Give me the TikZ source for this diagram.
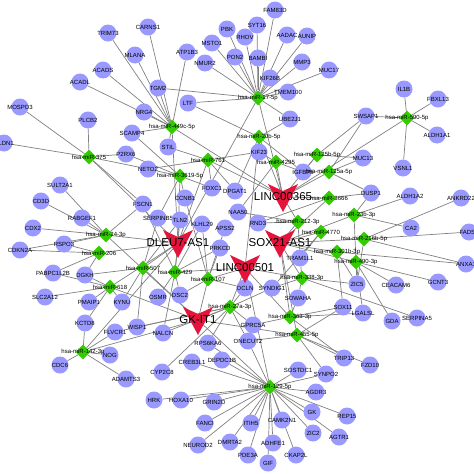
\documentclass[tikz,border=0pt]{standalone}
\usepackage{fontspec}
\setmainfont{Liberation Sans}
\usetikzlibrary{shapes.geometric,backgrounds}
\definecolor{genec}{RGB}{153,153,255}
\definecolor{mirc}{RGB}{51,204,0}
\definecolor{lncc}{RGB}{228,20,60}
\definecolor{edgec}{RGB}{128,128,128}

\begin{document}
\begin{tikzpicture}[x=1pt,y=-1pt,
   gene/.style={circle,fill=genec,minimum size=17pt,inner sep=0pt},
   mir/.style={diamond,fill=mirc,minimum size=15pt,inner sep=0pt},
   lnc/.style={inner sep=0pt,minimum size=0pt},
   link/.style={draw=edgec,line width=0.7pt},
   every label/.style={font=\fontsize{6}{6}\selectfont,inner sep=0pt}]
   \useasboundingbox (0,0) rectangle (474,474);

   % mRNAs
   \foreach \nm/\xy in {FAM83D/{275,10},TRIM73/{108,33},CARNS1/{148,27},SYT16/{257,25},
      PBK/{227,29},RHOV/{245,37},AADAC/{287,35},AUNIP/{307,36},MSTO1/{212,43},
      ATP1B3/{187,52},MLANA/{135,55},PON2/{235,57},BAMBI/{258,58},NMUR2/{205,63},
      MMP3/{302,62},ACADS/{103,70},MUC17/{329,70},ACADL/{80,82},KIF26B/{270,78},
      TGM2/{158,88},TMEM100/{288,92},LTF/{188,103},IL1B/{404,89},FBXL13/{438,99},
      MOSPD3/{20,107},NRG4/{144,112},UBE2J1/{290,119},PLCB2/{88,120},SWSAP1/{366,116},
      ALDH1A1/{437,135},SCAMP4/{132,133},CLDN1/{4,143},STIL/{168,147},KIF23/{259,152},
      P2RX6/{126,154},MUC13/{363,158},VSNL1/{403,168},NETO2/{148,169},IGFBP5/{303,172},
      SULT2A1/{60,185},FOXC1/{212,188},DPGAT1/{235,191},DUSP1/{371,193},ALDH1A2/{410,196},
      ANKRD22/{461,198},CCNB1/{185,198},CD3D/{41,201},FSCN1/{143,204},NAA50/{238,212},
      RABGEF1/{82,218},SERPINB5/{158,218},TLN2/{180,220},KLHL29/{202,224},APSS2/{225,228},
      RND3/{258,223},CDX2/{33,228},CA2/{411,228},FADS1/{469,232},CDKN2A/{20,250},
      RSPO3/{64,244},PRKCD/{220,248},TRAM1L1/{300,258},ANXA1/{466,264},PABPC1L2B/{53,273},
      DGKH/{85,275},GCNT3/{438,282},ZIC5/{357,284},CEACAM6/{396,285},OCLN/{245,288},
      SYNDIG1/{272,288},DSC2/{180,295},OSMR/{158,297},SOWAHA/{298,298},SLC2A12/{45,297},
      PMAIP1/{89,302},KYNU/{122,302},SOX11/{343,307},LGALSL/{363,313},GDA/{392,321},
      SERPINA5/{417,318},KCTD8/{85,323},WISP1/{137,327},GPRC5A/{253,325},FLVCR1/{115,332},
      NALCN/{163,333},ONECUT2/{248,341},RPS6KA6/{208,343},NOG/{110,355},TRIP13/{344,358},
      CREB3L1/{192,362},DEPDC1B/{222,360},CDC6/{60,365},FZD10/{370,365},SOSTDC1/{298,370},
      CYP2C8/{162,372},SYNPO2/{326,374},ADAMTS3/{126,379},AGDR3/{316,392},HRK/{154,400},
      HOXA10/{181,400},GRIN2D/{214,402},GK/{312,412},REP15/{347,416},CAMK2N1/{282,420},
      FANCI/{205,423},ITIH5/{251,423},ZIC2/{313,433},AGTR1/{339,437},DMRTA2/{230,442},
      ADHFE1/{273,443},NEUROD2/{198,445},PDE3A/{248,455},CKAP2L/{296,455},GIF/{268,463}}
      \node[gene,label=center:\nm] (\nm) at (\xy) {};

   % miRNAs
   \foreach \nm/\xy/\lab in {miR17/{258,98}/17-5p,miR590/{407,118}/590-5p,miR449/{172,127}/449c-5p,
      miR20b/{259,137}/20b-5p,miR125b/{317,155}/125b-5p,miR375/{89,157}/375,miR761/{208,160}/761,
      miR4295/{276,162}/4295,miR125a/{329,172}/125a-5p,miR3619/{180,176}/3619-5p,
      miR3666/{329,198}/3666,miR23b/{354,215}/23b-3p,miR212/{298,222}/212-3p,miR4770/{321,232}/4770,
      miR24/{106,235}/24-3p,miR216b/{364,239}/216b-5p,miR301b/{337,252}/301b-3p,miR206/{99,253}/206,
      miR490/{356,262}/490-3p,miR507/{143,268}/507,miR429/{175,272}/429,miR338/{302,278}/338-3p,
      miR107/{208,279}/107,miR618/{110,287}/618,miR27a/{230,307}/27a-3p,miR363/{290,317}/363-3p,
      miR455/{297,335}/455-5p,miR142/{83,352}/142-3p,miR129/{270,387}/129-5p}
      \node[mir,label=center:hsa-miR-\lab] (\nm) at (\xy) {};

   % lncRNAs
   \foreach \nm/\xy/\lab in {dleu/{178,243}/DLEU7-AS1,linc365/{283,197}/LINC00365,
      sox21/{280,243}/SOX21-AS1,linc501/{245,268}/LINC00501,gkit1/{198,320}/GK-IT1}{
      \fill[lncc,shift={(\xy)}] (-15,-13) -- (0,-6) -- (15,-13) -- (0,15) -- cycle;
      \node[lnc,label={[font=\fontsize{11.5}{12}\selectfont]center:\lab}] (\nm) at (\xy) {};
   }

   \begin{scope}[on background layer]
   % lncRNA - miRNA
   \foreach \m in {miR375,miR24,miR206,miR507,miR618,miR142,miR429,miR3619,miR449,miR761,miR17}
      \draw[link] (dleu) -- (\m);
   \foreach \m in {miR17,miR20b,miR4295,miR590,miR125b,miR125a,miR3666,miR212,miR761,miR449}
      \draw[link] (linc365) -- (\m);
   \foreach \m in {miR23b,miR216b,miR301b,miR490,miR338,miR363,miR455,miR4770,miR212,miR3666}
      \draw[link] (sox21) -- (\m);
   \foreach \m in {miR107,miR27a,miR129,miR338,miR363,miR429,miR20b}
      \draw[link] (linc501) -- (\m);
   \foreach \m in {miR27a,miR142,miR618,miR507,miR129,miR107,miR455,miR24}
      \draw[link] (gkit1) -- (\m);

   % miRNA - mRNA
   \foreach \g in {FAM83D,PBK,SYT16,RHOV,AADAC,AUNIP,MSTO1,PON2,BAMBI,NMUR2,MMP3,KIF26B,
      TMEM100,TGM2,UBE2J1,MUC17,LTF}
      \draw[link] (miR17) -- (\g);
   \foreach \g in {TRIM73,MLANA,CARNS1,ATP1B3,ACADS,ACADL,NRG4,SCAMP4,STIL,TGM2}
      \draw[link] (miR449) -- (\g);
   \foreach \g in {CLDN1,MOSPD3,PLCB2,P2RX6,NETO2,FSCN1}
      \draw[link] (miR375) -- (\g);
   \foreach \g in {NETO2,STIL,FOXC1,DPGAT1,KIF23}
      \draw[link] (miR761) -- (\g);
   \foreach \g in {CCNB1,FOXC1,NETO2,SCAMP4,P2RX6,SERPINB5}
      \draw[link] (miR3619) -- (\g);
   \foreach \g in {KIF23,UBE2J1,IGFBP5,DPGAT1,LTF}
      \draw[link] (miR20b) -- (\g);
   \foreach \g in {IGFBP5,KIF23,NAA50}
      \draw[link] (miR4295) -- (\g);
   \foreach \g in {IL1B,FBXL13,ALDH1A1,SWSAP1,VSNL1}
      \draw[link] (miR590) -- (\g);
   \foreach \g in {SWSAP1,MUC13,IGFBP5}
      \draw[link] (miR125b) -- (\g);
   \foreach \g in {SWSAP1,MUC13,DUSP1}
      \draw[link] (miR125a) -- (\g);
   \foreach \g in {DUSP1,RND3}
      \draw[link] (miR3666) -- (\g);
   \foreach \g in {DUSP1,ALDH1A2,CA2,ZIC5}
      \draw[link] (miR23b) -- (\g);
   \foreach \g in {ANKRD22,FADS1,ZIC5,ANXA1}
      \draw[link] (miR216b) -- (\g);
   \foreach \g in {ANXA1,ZIC5,SOX11}
      \draw[link] (miR301b) -- (\g);
   \foreach \g in {GCNT3,ZIC5,CEACAM6,LGALSL,GDA}
      \draw[link] (miR490) -- (\g);
   \foreach \g in {RND3,NAA50,TRAM1L1}
      \draw[link] (miR212) -- (\g);
   \foreach \g in {TRAM1L1,SYNDIG1}
      \draw[link] (miR4770) -- (\g);
   \foreach \g in {TRAM1L1,SOWAHA,SYNDIG1,ZIC5,SERPINA5}
      \draw[link] (miR338) -- (\g);
   \foreach \g in {SOWAHA,GPRC5A,SOX11,LGALSL,TRIP13}
      \draw[link] (miR363) -- (\g);
   \foreach \g in {SOX11,TRIP13,FZD10,SYNPO2,ONECUT2}
      \draw[link] (miR455) -- (\g);
   \foreach \g in {SOSTDC1,CREB3L1,DEPDC1B,GRIN2D,FANCI,ITIH5,CAMK2N1,NEUROD2,DMRTA2,ADHFE1,
      PDE3A,CKAP2L,GIF,GK,ZIC2,AGTR1,REP15,AGDR3,SYNPO2,HOXA10,HRK,ONECUT2,RPS6KA6}
      \draw[link] (miR129) -- (\g);
   \foreach \g in {CDC6,NOG,ADAMTS3,KCTD8,FLVCR1}
      \draw[link] (miR142) -- (\g);
   \foreach \g in {CDKN2A,RSPO3,RABGEF1,SULT2A1,CD3D,CDX2,FSCN1}
      \draw[link] (miR24) -- (\g);
   \foreach \g in {RSPO3,DGKH,PABPC1L2B,CDKN2A}
      \draw[link] (miR206) -- (\g);
   \foreach \g in {KYNU,WISP1,DGKH,TLN2,SERPINB5}
      \draw[link] (miR507) -- (\g);
   \foreach \g in {SLC2A12,PMAIP1,KYNU,DGKH,KCTD8,PABPC1L2B}
      \draw[link] (miR618) -- (\g);
   \foreach \g in {DSC2,OSMR,TLN2,KLHL29,FSCN1,NALCN,PRKCD}
      \draw[link] (miR429) -- (\g);
   \foreach \g in {OCLN,DSC2,KLHL29,APSS2,PRKCD,CCNB1}
      \draw[link] (miR107) -- (\g);
   \foreach \g in {OCLN,GPRC5A,NALCN,RPS6KA6,ONECUT2,SYNDIG1,CYP2C8,WISP1,FLVCR1}
      \draw[link] (miR27a) -- (\g);
   \end{scope}
\end{tikzpicture}
\end{document}
